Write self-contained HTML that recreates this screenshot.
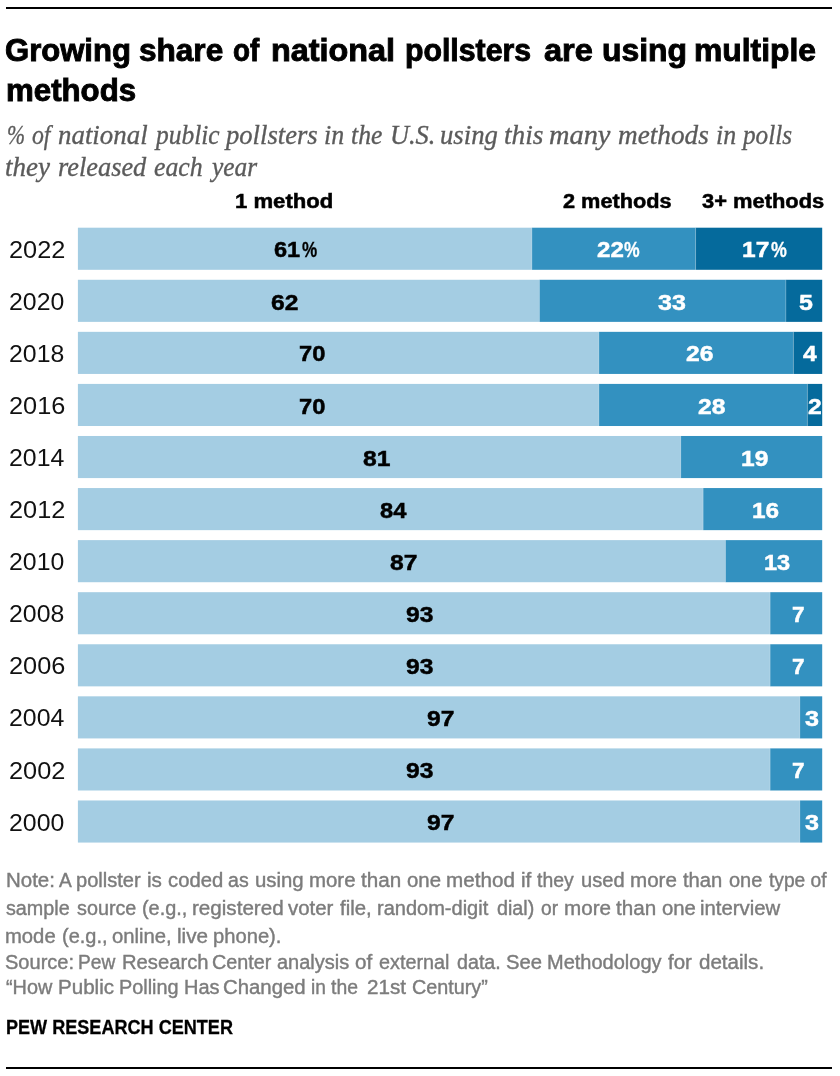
<!DOCTYPE html>
<html lang="en">
<head>
<meta charset="utf-8">
<title>Growing share of national pollsters are using multiple methods</title>
<style>
html,body{margin:0;padding:0;background:#fff;}
#chart{position:relative;width:840px;height:1076px;overflow:hidden;background:#fff;font-family:"Liberation Sans", sans-serif;}
#chart h1,#chart p,#chart div{margin:0;padding:0;font:inherit;}
#bars{position:absolute;left:0;top:0;}
.rule{position:absolute;left:6px;width:826px;height:2px;background:#000;}
.t{position:absolute;white-space:nowrap;line-height:1;transform-origin:0 0;font-weight:400;font-style:normal;}
.ttl{font-size:30.50px;font-weight:700;color:#000;-webkit-text-stroke-width:.9px;}
.sub{font-family:'Liberation Serif',serif;font-style:italic;font-size:27.00px;color:#5b5b5b;-webkit-text-stroke-width:.35px;}
.hd{font-size:20.3px;font-weight:700;color:#000;-webkit-text-stroke-width:.5px;}
.yr{font-size:23px;color:#111;}
.v,.pc{font-size:22.80px;font-weight:700;color:#000;-webkit-text-stroke-width:.5px;}
.pc{-webkit-text-stroke-width:.3px;}
.w{color:#fff;}
.nt{font-size:19.50px;color:#7c7c7c;-webkit-text-stroke-width:.4px;}
.pew{font-size:20.8px;font-weight:700;color:#000;-webkit-text-stroke-width:.3px;}
</style>
</head>
<body>
<div id="chart">
<div class="rule" style="top:7px"></div>
<h1 class="title">
<span class="t ttl" style="left:5.49px;top:34.58px;transform:scaleX(1.0181)">Growing</span> <span class="t ttl" style="left:139.00px;top:34.58px;transform:scaleX(1.0346)">share</span> <span class="t ttl" style="left:232.51px;top:34.58px;transform:scaleX(0.9108)">of</span> <span class="t ttl" style="left:271.41px;top:34.58px;transform:scaleX(1.0615)">national</span> <span class="t ttl" style="left:404.51px;top:34.58px;transform:scaleX(0.9921)">pollsters</span> <span class="t ttl" style="left:544.48px;top:34.58px;transform:scaleX(1.0667)">are</span> <span class="t ttl" style="left:602.47px;top:34.58px;transform:scaleX(1.0456)">using</span> <span class="t ttl" style="left:693.96px;top:34.58px;transform:scaleX(1.0431)">multiple</span>
<span class="t ttl" style="left:6.48px;top:74.58px;transform:scaleX(1.0238)">methods</span>
</h1>
<p class="subtitle">
<span class="t sub" style="left:6.62px;top:121.99px;transform:scaleX(0.8010)">%</span> <span class="t sub" style="left:31.52px;top:121.99px;transform:scaleX(0.8786)">of</span> <span class="t sub" style="left:57.50px;top:121.99px;transform:scaleX(0.9956)">national</span> <span class="t sub" style="left:155.89px;top:121.99px;transform:scaleX(0.9429)">public</span> <span class="t sub" style="left:226.46px;top:121.99px;transform:scaleX(0.9853)">pollsters</span> <span class="t sub" style="left:324.04px;top:121.99px;transform:scaleX(0.9589)">in</span> <span class="t sub" style="left:350.57px;top:121.99px;transform:scaleX(0.9504)">the</span> <span class="t sub" style="left:389.55px;top:121.99px;transform:scaleX(0.9762)">U.S.</span> <span class="t sub" style="left:439.51px;top:121.99px;transform:scaleX(0.9896)">using</span> <span class="t sub" style="left:504.48px;top:121.99px;transform:scaleX(1.0111)">this</span> <span class="t sub" style="left:549.48px;top:121.99px;transform:scaleX(1.0511)">many</span> <span class="t sub" style="left:618.49px;top:121.99px;transform:scaleX(1.0090)">methods</span> <span class="t sub" style="left:715.54px;top:121.99px;transform:scaleX(0.9589)">in</span> <span class="t sub" style="left:743.39px;top:121.99px;transform:scaleX(0.9335)">polls</span>
<span class="t sub" style="left:5.49px;top:153.99px;transform:scaleX(1.0005)">they</span> <span class="t sub" style="left:58.02px;top:153.99px;transform:scaleX(0.9756)">released</span> <span class="t sub" style="left:154.00px;top:153.99px;transform:scaleX(0.9561)">each</span> <span class="t sub" style="left:212.36px;top:153.99px;transform:scaleX(0.9416)">year</span>
</p>
<div class="legend"><span class="t hd" style="left:234.91px;top:190.62px;transform:scaleX(1.0909)">1 method</span> <span class="t hd" style="left:563.46px;top:190.62px;transform:scaleX(1.0713)">2 methods</span> <span class="t hd" style="left:702.00px;top:190.62px;transform:scaleX(1.0796)">3+ methods</span></div>
<svg id="bars" width="840" height="1076" viewBox="0 0 840 1076">
<g><rect x="77.90" y="227.70" width="454.02" height="42.10" fill="#a4cde3"/><rect x="531.92" y="227.70" width="163.75" height="42.10" fill="#3391c0"/><rect x="695.67" y="227.70" width="126.53" height="42.10" fill="#056a9c"/><rect x="531.52" y="227.70" width="0.8" height="42.10" fill="#fff" fill-opacity=".28"/><rect x="695.27" y="227.70" width="0.8" height="42.10" fill="#fff" fill-opacity=".28"/></g>
<g><rect x="77.90" y="279.77" width="461.47" height="42.10" fill="#a4cde3"/><rect x="539.37" y="279.77" width="246.51" height="42.10" fill="#3391c0"/><rect x="785.88" y="279.77" width="36.32" height="42.10" fill="#056a9c"/><rect x="538.97" y="279.77" width="0.8" height="42.10" fill="#fff" fill-opacity=".28"/><rect x="785.48" y="279.77" width="0.8" height="42.10" fill="#fff" fill-opacity=".28"/></g>
<g><rect x="77.90" y="331.84" width="521.01" height="42.10" fill="#a4cde3"/><rect x="598.91" y="331.84" width="194.41" height="42.10" fill="#3391c0"/><rect x="793.32" y="331.84" width="28.88" height="42.10" fill="#056a9c"/><rect x="598.51" y="331.84" width="0.8" height="42.10" fill="#fff" fill-opacity=".28"/><rect x="792.92" y="331.84" width="0.8" height="42.10" fill="#fff" fill-opacity=".28"/></g>
<g><rect x="77.90" y="383.91" width="521.01" height="42.10" fill="#a4cde3"/><rect x="598.91" y="383.91" width="208.40" height="42.10" fill="#3391c0"/><rect x="807.31" y="383.91" width="14.89" height="42.10" fill="#056a9c"/><rect x="598.51" y="383.91" width="0.8" height="42.10" fill="#fff" fill-opacity=".28"/><rect x="806.91" y="383.91" width="0.8" height="42.10" fill="#fff" fill-opacity=".28"/></g>
<g><rect x="77.90" y="435.98" width="602.88" height="42.10" fill="#a4cde3"/><rect x="680.78" y="435.98" width="141.42" height="42.10" fill="#3391c0"/><rect x="680.38" y="435.98" width="0.8" height="42.10" fill="#fff" fill-opacity=".28"/></g>
<g><rect x="77.90" y="488.05" width="625.21" height="42.10" fill="#a4cde3"/><rect x="703.11" y="488.05" width="119.09" height="42.10" fill="#3391c0"/><rect x="702.71" y="488.05" width="0.8" height="42.10" fill="#fff" fill-opacity=".28"/></g>
<g><rect x="77.90" y="540.12" width="647.54" height="42.10" fill="#a4cde3"/><rect x="725.44" y="540.12" width="96.76" height="42.10" fill="#3391c0"/><rect x="725.04" y="540.12" width="0.8" height="42.10" fill="#fff" fill-opacity=".28"/></g>
<g><rect x="77.90" y="592.19" width="692.20" height="42.10" fill="#a4cde3"/><rect x="770.10" y="592.19" width="52.10" height="42.10" fill="#3391c0"/><rect x="769.70" y="592.19" width="0.8" height="42.10" fill="#fff" fill-opacity=".28"/></g>
<g><rect x="77.90" y="644.26" width="692.20" height="42.10" fill="#a4cde3"/><rect x="770.10" y="644.26" width="52.10" height="42.10" fill="#3391c0"/><rect x="769.70" y="644.26" width="0.8" height="42.10" fill="#fff" fill-opacity=".28"/></g>
<g><rect x="77.90" y="696.33" width="721.97" height="42.10" fill="#a4cde3"/><rect x="799.87" y="696.33" width="22.33" height="42.10" fill="#3391c0"/><rect x="799.47" y="696.33" width="0.8" height="42.10" fill="#fff" fill-opacity=".28"/></g>
<g><rect x="77.90" y="748.40" width="692.20" height="42.10" fill="#a4cde3"/><rect x="770.10" y="748.40" width="52.10" height="42.10" fill="#3391c0"/><rect x="769.70" y="748.40" width="0.8" height="42.10" fill="#fff" fill-opacity=".28"/></g>
<g><rect x="77.90" y="800.47" width="721.97" height="42.10" fill="#a4cde3"/><rect x="799.87" y="800.47" width="22.33" height="42.10" fill="#3391c0"/><rect x="799.47" y="800.47" width="0.8" height="42.10" fill="#fff" fill-opacity=".28"/></g>
</svg>
<div class="rows">
<div class="row"><span class="t yr" style="left:8.95px;top:238.83px;transform:scaleX(1.1004)">2022</span> <span class="t v" style="left:274.47px;top:238.30px;transform:scaleX(1.0327)">61</span> <span class="t pc" style="left:301.52px;top:238.30px;transform:scaleX(0.7500)">%</span> <span class="t v w" style="left:596.52px;top:238.30px;transform:scaleX(1.0565)">22</span> <span class="t pc w" style="left:624.42px;top:238.30px;transform:scaleX(0.7702)">%</span> <span class="t v w" style="left:741.97px;top:238.30px;transform:scaleX(1.0756)">17</span> <span class="t pc w" style="left:770.51px;top:238.30px;transform:scaleX(0.7812)">%</span></div>
<div class="row"><span class="t yr" style="left:8.97px;top:290.90px;transform:scaleX(1.0800)">2020</span> <span class="t v" style="left:271.00px;top:291.37px;transform:scaleX(1.0800)">62</span> <span class="t v w" style="left:657.51px;top:291.37px;transform:scaleX(1.0961)">33</span> <span class="t v w" style="left:798.52px;top:291.37px;transform:scaleX(1.0956)">5</span></div>
<div class="row"><span class="t yr" style="left:8.97px;top:342.97px;transform:scaleX(1.0800)">2018</span> <span class="t v" style="left:299.00px;top:342.44px;transform:scaleX(1.0400)">70</span> <span class="t v w" style="left:686.46px;top:342.44px;transform:scaleX(1.0800)">26</span> <span class="t v w" style="left:803.00px;top:342.44px;transform:scaleX(1.0769)">4</span></div>
<div class="row"><span class="t yr" style="left:8.95px;top:395.04px;transform:scaleX(1.1004)">2016</span> <span class="t v" style="left:299.00px;top:394.51px;transform:scaleX(1.0400)">70</span> <span class="t v w" style="left:697.50px;top:394.51px;transform:scaleX(1.0807)">28</span> <span class="t v w" style="left:808.00px;top:394.51px;transform:scaleX(1.0833)">2</span></div>
<div class="row"><span class="t yr" style="left:8.97px;top:447.11px;transform:scaleX(1.0800)">2014</span> <span class="t v" style="left:363.46px;top:446.58px;transform:scaleX(1.0807)">81</span> <span class="t v w" style="left:741.40px;top:446.58px;transform:scaleX(1.0757)">19</span></div>
<div class="row"><span class="t yr" style="left:8.95px;top:499.18px;transform:scaleX(1.1004)">2012</span> <span class="t v" style="left:380.46px;top:498.65px;transform:scaleX(1.0407)">84</span> <span class="t v w" style="left:752.43px;top:498.65px;transform:scaleX(1.0668)">16</span></div>
<div class="row"><span class="t yr" style="left:8.97px;top:551.25px;transform:scaleX(1.0800)">2010</span> <span class="t v" style="left:390.00px;top:550.72px;transform:scaleX(1.0808)">87</span> <span class="t v w" style="left:763.98px;top:550.72px;transform:scaleX(1.0339)">13</span></div>
<div class="row"><span class="t yr" style="left:8.97px;top:603.32px;transform:scaleX(1.0800)">2008</span> <span class="t v" style="left:406.46px;top:602.79px;transform:scaleX(1.0800)">93</span> <span class="t v w" style="left:792.00px;top:602.79px;transform:scaleX(0.9862)">7</span></div>
<div class="row"><span class="t yr" style="left:8.95px;top:655.39px;transform:scaleX(1.1004)">2006</span> <span class="t v" style="left:406.46px;top:654.86px;transform:scaleX(1.0800)">93</span> <span class="t v w" style="left:792.00px;top:654.86px;transform:scaleX(0.9862)">7</span></div>
<div class="row"><span class="t yr" style="left:8.97px;top:707.46px;transform:scaleX(1.0800)">2004</span> <span class="t v" style="left:427.46px;top:706.93px;transform:scaleX(1.0808)">97</span> <span class="t v w" style="left:805.44px;top:706.93px;transform:scaleX(1.1021)">3</span></div>
<div class="row"><span class="t yr" style="left:8.95px;top:759.53px;transform:scaleX(1.1004)">2002</span> <span class="t v" style="left:406.46px;top:759.00px;transform:scaleX(1.0800)">93</span> <span class="t v w" style="left:792.00px;top:759.00px;transform:scaleX(0.9862)">7</span></div>
<div class="row"><span class="t yr" style="left:8.97px;top:811.60px;transform:scaleX(1.0800)">2000</span> <span class="t v" style="left:427.46px;top:811.07px;transform:scaleX(1.0808)">97</span> <span class="t v w" style="left:805.44px;top:811.07px;transform:scaleX(1.1021)">3</span></div>
</div>
<div class="notes">
<p><span class="t nt" style="left:5.90px;top:871.19px;transform:scaleX(1.0502)">Note:</span> <span class="t nt" style="left:59.21px;top:871.19px;transform:scaleX(0.9814)">A</span> <span class="t nt" style="left:76.27px;top:871.19px;transform:scaleX(1.0291)">pollster</span> <span class="t nt" style="left:147.24px;top:871.19px;transform:scaleX(1.0589)">is</span> <span class="t nt" style="left:168.00px;top:871.19px;transform:scaleX(1.0385)">coded</span> <span class="t nt" style="left:228.10px;top:871.19px;">as</span> <span class="t nt" style="left:254.98px;top:871.19px;transform:scaleX(1.0444)">using</span> <span class="t nt" style="left:309.20px;top:871.19px;transform:scaleX(1.0468)">more</span> <span class="t nt" style="left:361.16px;top:871.19px;transform:scaleX(1.0589)">than</span> <span class="t nt" style="left:406.63px;top:871.19px;transform:scaleX(1.0438)">one</span> <span class="t nt" style="left:446.26px;top:871.19px;transform:scaleX(1.0589)">method</span> <span class="t nt" style="left:520.64px;top:871.19px;transform:scaleX(1.0589)">if</span> <span class="t nt" style="left:537.31px;top:871.19px;transform:scaleX(0.9949)">they</span> <span class="t nt" style="left:580.87px;top:871.19px;transform:scaleX(1.0301)">used</span> <span class="t nt" style="left:629.67px;top:871.19px;transform:scaleX(1.0555)">more</span> <span class="t nt" style="left:683.29px;top:871.19px;transform:scaleX(1.0374)">than</span> <span class="t nt" style="left:728.89px;top:871.19px;transform:scaleX(1.0254)">one</span> <span class="t nt" style="left:768.75px;top:871.19px;transform:scaleX(0.9832)">type of</span></p>
<p><span class="t nt" style="left:6.45px;top:898.79px;transform:scaleX(1.0128)">sample</span> <span class="t nt" style="left:77.30px;top:898.79px;transform:scaleX(1.0139)">source</span> <span class="t nt" style="left:142.28px;top:898.79px;transform:scaleX(1.0193)">(e.g.,</span> <span class="t nt" style="left:191.53px;top:898.79px;transform:scaleX(1.0565)">registered</span> <span class="t nt" style="left:288.00px;top:898.79px;transform:scaleX(1.0465)">voter</span> <span class="t nt" style="left:340.04px;top:898.79px;transform:scaleX(1.0418)">file,</span> <span class="t nt" style="left:377.11px;top:898.79px;transform:scaleX(1.0262)">random-digit</span> <span class="t nt" style="left:496.60px;top:898.79px;transform:scaleX(1.0114)">dial)</span> <span class="t nt" style="left:540.65px;top:898.79px;transform:scaleX(0.9814)">or</span> <span class="t nt" style="left:563.54px;top:898.79px;transform:scaleX(1.0589)">more</span> <span class="t nt" style="left:616.16px;top:898.79px;transform:scaleX(1.0589)">than</span> <span class="t nt" style="left:662.24px;top:898.79px;transform:scaleX(1.0399)">one</span> <span class="t nt" style="left:700.10px;top:898.79px;transform:scaleX(1.0422)">interview</span></p>
<p><span class="t nt" style="left:4.91px;top:926.79px;transform:scaleX(1.0380)">mode</span> <span class="t nt" style="left:61.98px;top:926.79px;transform:scaleX(1.0238)">(e.g.,</span> <span class="t nt" style="left:112.03px;top:926.79px;transform:scaleX(1.0394)">online,</span> <span class="t nt" style="left:177.46px;top:926.79px;transform:scaleX(1.0589)">live</span> <span class="t nt" style="left:213.01px;top:926.79px;transform:scaleX(1.0345)">phone).</span></p>
<p><span class="t nt" style="left:4.93px;top:952.79px;transform:scaleX(1.0278)">Source:</span> <span class="t nt" style="left:77.80px;top:952.79px;transform:scaleX(0.9814)">Pew</span> <span class="t nt" style="left:121.94px;top:952.79px;transform:scaleX(1.0372)">Research</span> <span class="t nt" style="left:212.29px;top:952.79px;transform:scaleX(1.0139)">Center</span> <span class="t nt" style="left:277.28px;top:952.79px;transform:scaleX(1.0258)">analysis</span> <span class="t nt" style="left:355.03px;top:952.79px;transform:scaleX(1.0589)">of</span> <span class="t nt" style="left:379.00px;top:952.79px;transform:scaleX(1.0149)">external</span> <span class="t nt" style="left:457.10px;top:952.79px;transform:scaleX(1.0097)">data.</span> <span class="t nt" style="left:505.61px;top:952.79px;transform:scaleX(1.0367)">See</span> <span class="t nt" style="left:547.36px;top:952.79px;transform:scaleX(1.0255)">Methodology</span> <span class="t nt" style="left:667.51px;top:952.79px;transform:scaleX(1.0530)">for</span> <span class="t nt" style="left:698.67px;top:952.79px;transform:scaleX(1.0534)">details.</span></p>
<p><span class="t nt" style="left:6.19px;top:978.49px;transform:scaleX(1.0180)">“How</span> <span class="t nt" style="left:57.72px;top:978.49px;transform:scaleX(1.0551)">Public</span> <span class="t nt" style="left:118.98px;top:978.49px;transform:scaleX(1.0175)">Polling</span> <span class="t nt" style="left:183.53px;top:978.49px;transform:scaleX(1.0246)">Has</span> <span class="t nt" style="left:223.12px;top:978.49px;transform:scaleX(1.0438)">Changed</span> <span class="t nt" style="left:310.83px;top:978.49px;transform:scaleX(0.9814)">in</span> <span class="t nt" style="left:331.00px;top:978.49px;transform:scaleX(0.9929)">the</span> <span class="t nt" style="left:366.54px;top:978.49px;transform:scaleX(1.0589)">21st</span> <span class="t nt" style="left:411.79px;top:978.49px;transform:scaleX(1.0139)">Century”</span></p>
</div>
<div class="brand"><span class="t pew" style="left:6.13px;top:1017.19px;transform:scaleX(0.8692)">PEW RESEARCH CENTER</span></div>
<div class="rule" style="top:1066.7px"></div>
</div>
</body>
</html>
